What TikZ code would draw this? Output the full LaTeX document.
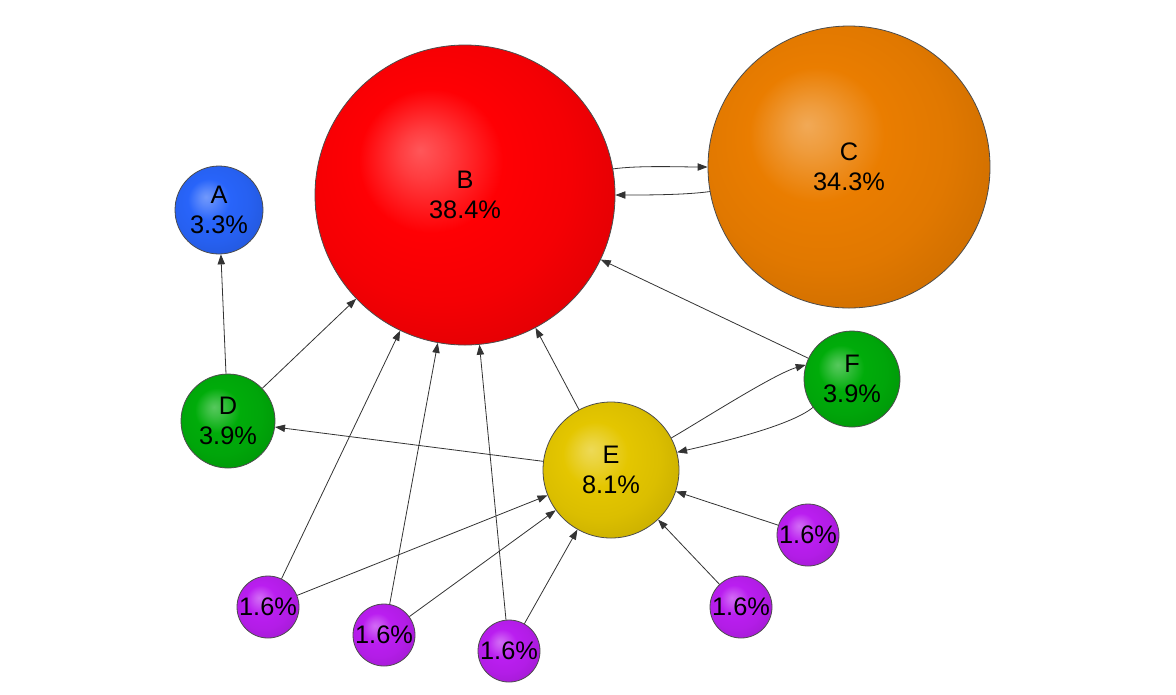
\documentclass[tikz,border=0pt]{standalone}
\usepackage{fontspec}
\setmainfont{Liberation Sans}
\usetikzlibrary{arrows.meta}
\colorlet{ballc}{red}
\pgfdeclareradialshading[ballc]{pball}{\pgfpoint{-7.5bp}{7.5bp}}{color(0bp)=(ballc!66!white); color(4bp)=(ballc!76!white); color(12bp)=(ballc); color(22bp)=(ballc!96!black); color(34bp)=(ballc!86!black); color(50bp)=(ballc!80!black)}
\definecolor{cA}{RGB}{40,100,250}
\definecolor{cB}{RGB}{255,0,4}
\definecolor{cC}{RGB}{234,125,0}
\definecolor{cG}{RGB}{0,172,10}
\definecolor{cE}{RGB}{228,198,0}
\definecolor{cP}{RGB}{186,30,240}
\tikzset{
  ball/.style={circle, draw=black!70, line width=0.6pt, inner sep=0pt, shading=pball,
    /utils/exec={\colorlet{ballc}{#1}}, align=center,
    font=\fontsize{19}{22.5}\selectfont},
  rad/.style={minimum size=#1*1.5pt},
  arr/.style={-{Triangle[length=7.5pt,width=5.5pt]}, draw=black!80, line width=0.6pt},
}
\begin{document}
\begin{tikzpicture}[x=0.75pt,y=-0.75pt]
\useasboundingbox (0,0) rectangle (1176,694);
\node[ball=cA, rad=44] (A) at (219,210) {A\\3.3\%};
\node[ball=cB, rad=150] (B) at (465,195) {B\\38.4\%};
\node[ball=cC, rad=141] (C) at (849,167) {C\\34.3\%};
\node[ball=cG, rad=47] (D) at (228,421) {D\\3.9\%};
\node[ball=cE, rad=68] (E) at (611,470) {E\\8.1\%};
\node[ball=cG, rad=48] (F) at (852,379) {F\\3.9\%};
\node[ball=cP, rad=31] (P1) at (268,607) {1.6\%};
\node[ball=cP, rad=31] (P2) at (384,635) {1.6\%};
\node[ball=cP, rad=31] (P3) at (509,651) {1.6\%};
\node[ball=cP, rad=31] (P4) at (741,607) {1.6\%};
\node[ball=cP, rad=31] (P5) at (808,535) {1.6\%};
\draw[arr] (D) -- (A);
\draw[arr] (D) -- (B);
\draw[arr] (E) -- (D);
\draw[arr] (E) -- (B);
\draw[arr] (F) -- (B);
\draw[arr] (B.10) to[out=8,in=180,looseness=0.7] (C.180);
\draw[arr] (C.190) to[out=188,in=0,looseness=0.7] (B.0);
\draw[arr] (E.28) to[out=30,in=196,looseness=0.55] (F.163);
\draw[arr] (F.216) to[out=220,in=13,looseness=0.55] (E.15);
\draw[arr] (P1) -- (B);
\draw[arr] (P1) -- (E);
\draw[arr] (P2) -- (B);
\draw[arr] (P2) -- (E);
\draw[arr] (P3) -- (B);
\draw[arr] (P3) -- (E);
\draw[arr] (P4) -- (E);
\draw[arr] (P5) -- (E);
\end{tikzpicture}
\end{document}
